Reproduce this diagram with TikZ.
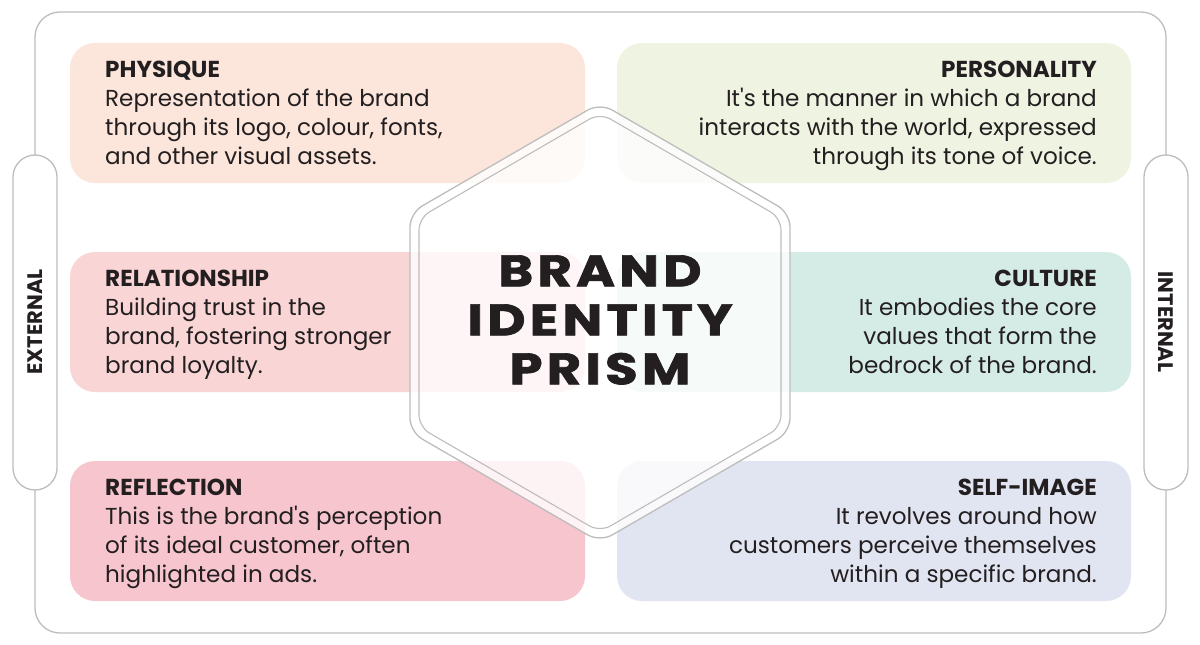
\documentclass[tikz,border=0pt]{standalone}
\usepackage{fontspec}
\setmainfont{Poppins}
\newfontfamily\titlefont[LetterSpace=8,FakeBold=1.5]{Poppins Bold}
\usetikzlibrary{shapes.geometric}
\definecolor{cphy}{HTML}{FCE6DC}
\definecolor{cper}{HTML}{EEF3E2}
\definecolor{crel}{HTML}{FAD5D6}
\definecolor{ccul}{HTML}{D5EBE5}
\definecolor{cref}{HTML}{F7C5CD}
\definecolor{cself}{HTML}{E1E4F1}
\definecolor{cline}{HTML}{BDBDBD}
\definecolor{ctext}{HTML}{231F20}
\begin{document}
\begin{tikzpicture}[x=1pt,y=-1pt,
  card/.style={rounded corners=25pt},
  lbody/.style={anchor=north west,align=left,text=ctext,font=\fontsize{23.1}{29}\selectfont,inner sep=0pt},
  rbody/.style={anchor=north east,align=right,text=ctext,font=\fontsize{23.1}{29}\selectfont,inner sep=0pt},
  pill/.style={draw=cline,line width=1.3pt,fill=white,rounded corners=22pt},
  side/.style={font=\bfseries\fontsize{21}{24}\selectfont,text=ctext}]
\useasboundingbox (0,0) rectangle (1200,645);
\fill[white] (0,0) rectangle (1200,645);
\draw[cline,line width=1.3pt,rounded corners=25pt] (35,12) rectangle (1166,633);
\draw[pill] (13,155) rectangle (57,490);
\draw[pill] (1144,155) rectangle (1188,490);
\node[side,rotate=90] (ext) at (35,322) {EXTERNAL};
\node[side,rotate=-90] (int) at (1166,322) {INTERNAL};
\fill[cphy,card] (70,43) rectangle (585,183);
\fill[cper,card] (617,43) rectangle (1131,183);
\fill[crel,card] (70,252) rectangle (585,392);
\fill[ccul,card] (617,252) rectangle (1131,392);
\fill[cref,card] (70,461) rectangle (585,601);
\fill[cself,card] (617,461) rectangle (1131,601);
\node[lbody] (phy) at (105,61) {\textbf{PHYSIQUE}\\Representation of the brand\\through its logo, colour, fonts,\\and other visual assets.};
\node[rbody] (per) at (1097,61) {\textbf{PERSONALITY}\\It\textquotesingle s the manner in which a brand\\interacts with the world, expressed\\through its tone of voice.};
\node[lbody] (rel) at (105,270) {\textbf{RELATIONSHIP}\\Building trust in the\\brand, fostering stronger\\brand loyalty.};
\node[rbody] (cul) at (1097,270) {\textbf{CULTURE}\\It embodies the core\\values that form the\\bedrock of the brand.};
\node[lbody] (ref) at (105,479) {\textbf{REFLECTION}\\This is the brand\textquotesingle s perception\\of its ideal customer, often\\highlighted in ads.};
\node[rbody] (self) at (1097,479) {\textbf{SELF-IMAGE}\\It revolves around how\\customers perceive themselves\\within a specific brand.};
\fill[white,fill opacity=0.8,rounded corners=14pt] (600,103) -- (790,213) -- (790,432) -- (600,542) -- (410,432) -- (410,213) -- cycle;
\draw[cline,line width=1.3pt,rounded corners=14pt] (600,103) -- (790,213) -- (790,432) -- (600,542) -- (410,432) -- (410,213) -- cycle;
\draw[cline,line width=1.1pt,rounded corners=12pt] (600,113) -- (781,218) -- (781,427) -- (600,532) -- (419,427) -- (419,218) -- cycle;
\node[text=ctext,align=center,font=\titlefont\fontsize{44}{49}\selectfont,inner sep=0pt,xscale=1.2] (title) at (600,320) {BRAND\\IDENTITY\\PRISM};
\end{tikzpicture}
\end{document}
